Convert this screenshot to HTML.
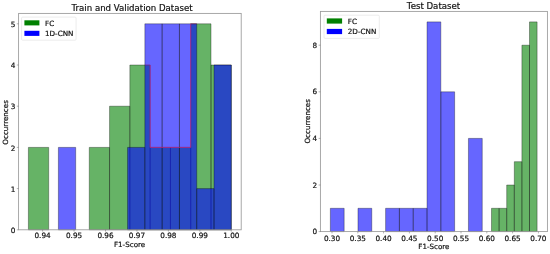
<!DOCTYPE html>
<html><head><meta charset="utf-8"><title>Histograms</title>
<style>
html,body{margin:0;padding:0;background:#fff;}
body{width:550px;height:254px;overflow:hidden;}
svg{display:block;}
text{font-family:"DejaVu Sans","Liberation Sans",sans-serif;fill:#111;stroke:#111;stroke-width:0.2px;}
</style></head><body>
<svg width="550" height="254" viewBox="0 0 550 254">
<rect x="0" y="0" width="550" height="254" fill="#ffffff"/>
<g id="left-green">
<rect x="28.40" y="147.40" width="20.29" height="82.40" fill="rgba(0,128,0,0.6)"/>
<rect x="89.27" y="147.40" width="20.29" height="82.40" fill="rgba(0,128,0,0.6)"/>
<rect x="109.56" y="106.20" width="20.29" height="123.60" fill="rgba(0,128,0,0.6)"/>
<rect x="129.85" y="65.00" width="20.29" height="164.80" fill="rgba(0,128,0,0.6)"/>
<rect x="150.14" y="147.40" width="20.29" height="82.40" fill="rgba(0,128,0,0.6)"/>
<rect x="170.43" y="147.40" width="20.29" height="82.40" fill="rgba(0,128,0,0.6)"/>
<rect x="190.72" y="23.80" width="20.29" height="206.00" fill="rgba(0,128,0,0.6)"/>
<rect x="211.01" y="65.00" width="20.29" height="164.80" fill="rgba(0,128,0,0.6)"/>
<path d="M28.40 147.40H48.69M28.40 229.80H48.69M28.40 229.80V147.40M48.69 229.80V147.40M89.27 147.40H109.56M89.27 229.80H109.56M89.27 229.80V147.40M109.56 106.20H129.85M109.56 229.80H129.85M109.56 147.40V106.20M129.85 65.00H150.14M129.85 229.80H150.14M129.85 106.20V65.00M150.14 147.40V65.00M150.14 147.40H170.43M150.14 229.80H170.43M170.43 147.40H190.72M170.43 229.80H190.72M190.72 23.80H211.01M190.72 229.80H211.01M190.72 147.40V23.80M211.01 65.00V23.80M211.01 65.00H231.30M211.01 229.80H231.30M231.30 229.80V65.00" fill="none" stroke="rgba(0,0,0,0.6)" stroke-width="0.55"/>
<path d="M109.56 229.80V147.40M129.85 229.80V106.20M150.14 229.80V147.40M170.43 229.80V147.40M190.72 229.80V147.40M211.01 229.80V65.00" fill="none" stroke="rgba(0,0,0,0.72)" stroke-width="0.75"/>
</g>
<g id="left-blue">
<rect x="58.40" y="147.40" width="17.29" height="82.40" fill="rgba(0,0,255,0.6)"/>
<rect x="127.56" y="147.40" width="17.29" height="82.40" fill="rgba(0,0,255,0.6)"/>
<rect x="144.85" y="23.80" width="17.29" height="206.00" fill="rgba(0,0,255,0.6)"/>
<rect x="162.14" y="23.80" width="17.29" height="206.00" fill="rgba(0,0,255,0.6)"/>
<rect x="179.43" y="23.80" width="17.29" height="206.00" fill="rgba(0,0,255,0.6)"/>
<rect x="196.72" y="188.60" width="17.29" height="41.20" fill="rgba(0,0,255,0.6)"/>
<rect x="214.01" y="65.00" width="17.29" height="164.80" fill="rgba(0,0,255,0.6)"/>
<path d="M58.40 147.40H75.69M58.40 229.80H75.69M58.40 229.80V147.40M75.69 229.80V147.40M127.56 147.40H144.85M127.56 229.80H144.85M127.56 229.80V147.40M144.85 23.80H162.14M144.85 229.80H162.14M144.85 147.40V23.80M162.14 23.80H179.43M162.14 229.80H179.43M179.43 23.80H196.72M179.43 229.80H196.72M196.72 188.60V23.80M196.72 188.60H214.01M196.72 229.80H214.01M214.01 65.00H231.30M214.01 229.80H231.30M214.01 188.60V65.00M231.30 229.80V65.00" fill="none" stroke="rgba(0,0,0,0.6)" stroke-width="0.55"/>
<path d="M144.85 229.80V147.40M162.14 229.80V23.80M179.43 229.80V23.80M196.72 229.80V188.60M214.01 229.80V188.60" fill="none" stroke="rgba(0,0,0,0.72)" stroke-width="0.75"/>
</g>
<path d="M150.14 65.00 V147.40 H190.72 V23.80" fill="none" stroke="rgb(205,40,108)" stroke-width="0.75"/>
<path d="M144.85 65.00 H150.14 M190.72 23.80 H196.72" fill="none" stroke="rgb(205,40,108)" stroke-opacity="0.55" stroke-width="0.75"/>
<rect x="18.6" y="13.4" width="222.60" height="216.40" fill="none" stroke="#9a9a9a" stroke-width="0.85"/>
<line x1="42.60" y1="229.8" x2="42.60" y2="231.60000000000002" stroke="#6a6a6a" stroke-width="0.5"/>
<text x="42.60" y="238.30" font-size="7.3" text-anchor="middle">0.94</text>
<line x1="74.05" y1="229.8" x2="74.05" y2="231.60000000000002" stroke="#6a6a6a" stroke-width="0.5"/>
<text x="74.05" y="238.30" font-size="7.3" text-anchor="middle">0.95</text>
<line x1="105.50" y1="229.8" x2="105.50" y2="231.60000000000002" stroke="#6a6a6a" stroke-width="0.5"/>
<text x="105.50" y="238.30" font-size="7.3" text-anchor="middle">0.96</text>
<line x1="136.95" y1="229.8" x2="136.95" y2="231.60000000000002" stroke="#6a6a6a" stroke-width="0.5"/>
<text x="136.95" y="238.30" font-size="7.3" text-anchor="middle">0.97</text>
<line x1="168.40" y1="229.8" x2="168.40" y2="231.60000000000002" stroke="#6a6a6a" stroke-width="0.5"/>
<text x="168.40" y="238.30" font-size="7.3" text-anchor="middle">0.98</text>
<line x1="199.85" y1="229.8" x2="199.85" y2="231.60000000000002" stroke="#6a6a6a" stroke-width="0.5"/>
<text x="199.85" y="238.30" font-size="7.3" text-anchor="middle">0.99</text>
<line x1="231.30" y1="229.8" x2="231.30" y2="231.60000000000002" stroke="#6a6a6a" stroke-width="0.5"/>
<text x="231.30" y="238.30" font-size="7.3" text-anchor="middle">1.00</text>
<line x1="16.8" y1="229.80" x2="18.6" y2="229.80" stroke="#6a6a6a" stroke-width="0.5"/>
<text x="15.40" y="232.90" font-size="7.3" text-anchor="end">0</text>
<line x1="16.8" y1="188.60" x2="18.6" y2="188.60" stroke="#6a6a6a" stroke-width="0.5"/>
<text x="15.40" y="191.70" font-size="7.3" text-anchor="end">1</text>
<line x1="16.8" y1="147.40" x2="18.6" y2="147.40" stroke="#6a6a6a" stroke-width="0.5"/>
<text x="15.40" y="150.50" font-size="7.3" text-anchor="end">2</text>
<line x1="16.8" y1="106.20" x2="18.6" y2="106.20" stroke="#6a6a6a" stroke-width="0.5"/>
<text x="15.40" y="109.30" font-size="7.3" text-anchor="end">3</text>
<line x1="16.8" y1="65.00" x2="18.6" y2="65.00" stroke="#6a6a6a" stroke-width="0.5"/>
<text x="15.40" y="68.10" font-size="7.3" text-anchor="end">4</text>
<line x1="16.8" y1="23.80" x2="18.6" y2="23.80" stroke="#6a6a6a" stroke-width="0.5"/>
<text x="15.40" y="26.90" font-size="7.3" text-anchor="end">5</text>
<text x="132.1" y="11.0" font-size="8.6" text-anchor="middle">Train and Validation Dataset</text>
<text x="129.6" y="247.1" font-size="7.15" text-anchor="middle">F1-Score</text>
<text transform="translate(8.2,122.4) rotate(-90)" font-size="7.15" text-anchor="middle">Occurrences</text>
<rect x="21.6" y="17.1" width="54.5" height="23.1" rx="1" fill="#fff" fill-opacity="0.8" stroke="#d8d8d8" stroke-width="0.5"/>
<rect x="24.4" y="20.3" width="15.0" height="5.1" fill="#008000"/>
<rect x="24.4" y="30.8" width="15.0" height="5.1" fill="#0000ff"/>
<text x="45.0" y="25.6" font-size="7.2">FC</text>
<text x="45.0" y="36.0" font-size="7.2">1D-CNN</text>
<g id="right-blue">
<rect x="330.35" y="208.30" width="13.81" height="23.30" fill="rgba(0,0,255,0.6)"/>
<rect x="357.97" y="208.30" width="13.81" height="23.30" fill="rgba(0,0,255,0.6)"/>
<rect x="385.59" y="208.30" width="13.81" height="23.30" fill="rgba(0,0,255,0.6)"/>
<rect x="399.40" y="208.30" width="13.81" height="23.30" fill="rgba(0,0,255,0.6)"/>
<rect x="413.21" y="208.30" width="13.81" height="23.30" fill="rgba(0,0,255,0.6)"/>
<rect x="427.02" y="21.90" width="13.81" height="209.70" fill="rgba(0,0,255,0.6)"/>
<rect x="440.83" y="91.80" width="13.81" height="139.80" fill="rgba(0,0,255,0.6)"/>
<rect x="468.45" y="138.40" width="13.81" height="93.20" fill="rgba(0,0,255,0.6)"/>
<path d="M330.35 208.30H344.16M330.35 231.60H344.16M330.35 231.60V208.30M344.16 231.60V208.30M357.97 208.30H371.78M357.97 231.60H371.78M357.97 231.60V208.30M371.78 231.60V208.30M385.59 208.30H399.40M385.59 231.60H399.40M385.59 231.60V208.30M399.40 208.30H413.21M399.40 231.60H413.21M413.21 208.30H427.02M413.21 231.60H427.02M427.02 21.90H440.83M427.02 231.60H440.83M427.02 208.30V21.90M440.83 91.80V21.90M440.83 91.80H454.64M440.83 231.60H454.64M454.64 231.60V91.80M468.45 138.40H482.26M468.45 231.60H482.26M468.45 231.60V138.40M482.26 231.60V138.40" fill="none" stroke="rgba(0,0,0,0.6)" stroke-width="0.55"/>
<path d="M399.40 231.60V208.30M413.21 231.60V208.30M427.02 231.60V208.30M440.83 231.60V91.80" fill="none" stroke="rgba(0,0,0,0.72)" stroke-width="0.75"/>
</g>
<g id="right-green">
<rect x="491.50" y="208.30" width="7.60" height="23.30" fill="rgba(0,128,0,0.6)"/>
<rect x="499.10" y="208.30" width="7.60" height="23.30" fill="rgba(0,128,0,0.6)"/>
<rect x="506.70" y="185.00" width="7.60" height="46.60" fill="rgba(0,128,0,0.6)"/>
<rect x="514.30" y="161.70" width="7.60" height="69.90" fill="rgba(0,128,0,0.6)"/>
<rect x="521.90" y="45.20" width="7.60" height="186.40" fill="rgba(0,128,0,0.6)"/>
<rect x="529.50" y="21.90" width="7.60" height="209.70" fill="rgba(0,128,0,0.6)"/>
<path d="M491.50 208.30H499.10M491.50 231.60H499.10M491.50 231.60V208.30M499.10 208.30H506.70M499.10 231.60H506.70M506.70 185.00H514.30M506.70 231.60H514.30M506.70 208.30V185.00M514.30 161.70H521.90M514.30 231.60H521.90M514.30 185.00V161.70M521.90 45.20H529.50M521.90 231.60H529.50M521.90 161.70V45.20M529.50 21.90H537.10M529.50 231.60H537.10M529.50 45.20V21.90M537.10 231.60V21.90" fill="none" stroke="rgba(0,0,0,0.6)" stroke-width="0.55"/>
<path d="M499.10 231.60V208.30M506.70 231.60V208.30M514.30 231.60V185.00M521.90 231.60V161.70M529.50 231.60V45.20" fill="none" stroke="rgba(0,0,0,0.72)" stroke-width="0.75"/>
</g>
<rect x="320.4" y="11.4" width="227.00" height="220.20" fill="none" stroke="#9a9a9a" stroke-width="0.85"/>
<line x1="332.00" y1="231.6" x2="332.00" y2="233.4" stroke="#6a6a6a" stroke-width="0.5"/>
<text x="332.00" y="240.90" font-size="7.3" text-anchor="middle">0.30</text>
<line x1="357.80" y1="231.6" x2="357.80" y2="233.4" stroke="#6a6a6a" stroke-width="0.5"/>
<text x="357.80" y="240.90" font-size="7.3" text-anchor="middle">0.35</text>
<line x1="383.60" y1="231.6" x2="383.60" y2="233.4" stroke="#6a6a6a" stroke-width="0.5"/>
<text x="383.60" y="240.90" font-size="7.3" text-anchor="middle">0.40</text>
<line x1="409.40" y1="231.6" x2="409.40" y2="233.4" stroke="#6a6a6a" stroke-width="0.5"/>
<text x="409.40" y="240.90" font-size="7.3" text-anchor="middle">0.45</text>
<line x1="435.20" y1="231.6" x2="435.20" y2="233.4" stroke="#6a6a6a" stroke-width="0.5"/>
<text x="435.20" y="240.90" font-size="7.3" text-anchor="middle">0.50</text>
<line x1="461.00" y1="231.6" x2="461.00" y2="233.4" stroke="#6a6a6a" stroke-width="0.5"/>
<text x="461.00" y="240.90" font-size="7.3" text-anchor="middle">0.55</text>
<line x1="486.80" y1="231.6" x2="486.80" y2="233.4" stroke="#6a6a6a" stroke-width="0.5"/>
<text x="486.80" y="240.90" font-size="7.3" text-anchor="middle">0.60</text>
<line x1="512.60" y1="231.6" x2="512.60" y2="233.4" stroke="#6a6a6a" stroke-width="0.5"/>
<text x="512.60" y="240.90" font-size="7.3" text-anchor="middle">0.65</text>
<line x1="538.40" y1="231.6" x2="538.40" y2="233.4" stroke="#6a6a6a" stroke-width="0.5"/>
<text x="538.40" y="240.90" font-size="7.3" text-anchor="middle">0.70</text>
<line x1="318.59999999999997" y1="231.60" x2="320.4" y2="231.60" stroke="#6a6a6a" stroke-width="0.5"/>
<text x="317.20" y="234.20" font-size="7.3" text-anchor="end">0</text>
<line x1="318.59999999999997" y1="185.00" x2="320.4" y2="185.00" stroke="#6a6a6a" stroke-width="0.5"/>
<text x="317.20" y="187.60" font-size="7.3" text-anchor="end">2</text>
<line x1="318.59999999999997" y1="138.40" x2="320.4" y2="138.40" stroke="#6a6a6a" stroke-width="0.5"/>
<text x="317.20" y="141.00" font-size="7.3" text-anchor="end">4</text>
<line x1="318.59999999999997" y1="91.80" x2="320.4" y2="91.80" stroke="#6a6a6a" stroke-width="0.5"/>
<text x="317.20" y="94.40" font-size="7.3" text-anchor="end">6</text>
<line x1="318.59999999999997" y1="45.20" x2="320.4" y2="45.20" stroke="#6a6a6a" stroke-width="0.5"/>
<text x="317.20" y="47.80" font-size="7.3" text-anchor="end">8</text>
<text x="433.50" y="8.8" font-size="8.6" text-anchor="middle">Test Dataset</text>
<text x="433.90" y="248.8" font-size="7.15" text-anchor="middle">F1-Score</text>
<text transform="translate(310.3,121.3) rotate(-90)" font-size="7.15" text-anchor="middle">Occurrences</text>
<rect x="324.0" y="15.2" width="55.3" height="23.2" rx="1" fill="#fff" fill-opacity="0.8" stroke="#d8d8d8" stroke-width="0.5"/>
<rect x="326.8" y="18.4" width="15.3" height="5.2" fill="#008000"/>
<rect x="326.8" y="28.9" width="15.3" height="5.2" fill="#0000ff"/>
<text x="347.8" y="23.7" font-size="7.2">FC</text>
<text x="347.8" y="34.3" font-size="7.2">2D-CNN</text>
</svg></body></html>
